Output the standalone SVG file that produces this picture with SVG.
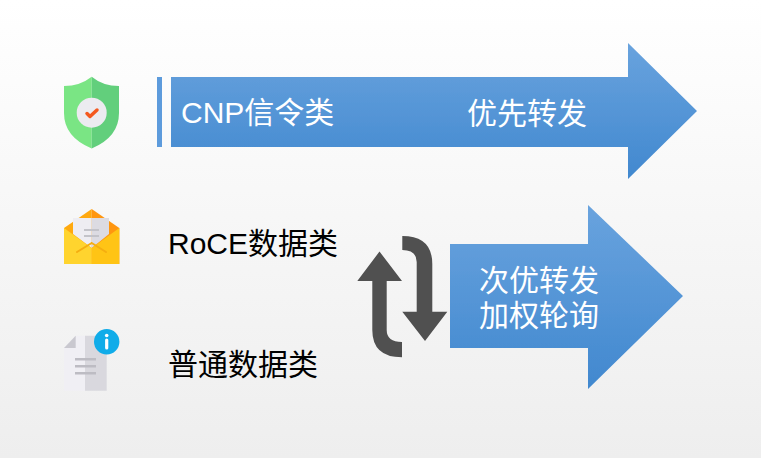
<svg xmlns="http://www.w3.org/2000/svg" width="761" height="458" viewBox="0 0 761 458">
<style>
text{font-family:"Liberation Sans","Noto Sans CJK SC",sans-serif;font-size:30px}
.w{fill:#fff}.k{fill:#000}
.arrow{fill:url(#blue);filter:url(#soft)}
.swap{fill:#505050}
</style>
<defs>
<linearGradient id="bg" x1="0" y1="0" x2="0" y2="1"><stop offset="0" stop-color="#fff"/><stop offset="1" stop-color="#eeeeee"/></linearGradient>
<linearGradient id="blue" x1="0" y1="0" x2="0" y2="1"><stop offset="0" stop-color="#69a3de"/><stop offset="1" stop-color="#4188cf"/></linearGradient>
<filter id="soft" x="-5%" y="-5%" width="110%" height="110%"><feGaussianBlur stdDeviation="0.6"/></filter>
</defs>
<rect width="761" height="458" fill="url(#bg)"/>
<g id="connectors">
<path id="arrow-priority" class="arrow" d="M171 77H628V43L697 111L628 179V147H171Z"/>
<path id="arrow-wrr" class="arrow" d="M450 244H588V205L683 296L588 389V348H450Z"/>
<path id="swap-up" class="swap" d="M379.500 251.500L402 281H386.700V330Q386.700 342 402 342V357.300Q372.300 357.300 372.300 330V281H357.300Z"/>
<path id="swap-down" class="swap" d="M402.300 236Q432.300 236 432.300 264V311.700H447.300L425 341L402.300 311.700H416.700V262Q416.700 250 402.300 250Z"/>
</g>
<g id="bar"><rect x="157" y="77" width="5" height="70" fill="#5d9bdc" filter="url(#soft)"/></g>
<g id="node-cnp">
<path d="M91.700 76.700Q80 86 64 86V113Q64 137 91.700 148.500Z" fill="#7ae584"/>
<path d="M91.700 76.700Q103 86 119 86V113Q119 137 91.700 148.500Z" fill="#62cf7c"/>
<circle cx="91.700" cy="112.700" r="15" fill="#ecebf0"/>
<path d="M87 113.500L90 116.500L97 110" fill="none" stroke="#f4581f" stroke-width="3.500" stroke-linecap="round" stroke-linejoin="round"/>
<text class="w" x="181" y="122.500">CNP信令类</text>
<text class="w" x="467" y="124">优先转发</text>
</g>
<g id="node-roce">
<path d="M64 228L91.700 209V264H64Z" fill="#ffa90f"/>
<path d="M119.300 228L91.700 209V264H119.300Z" fill="#ff9610"/>
<path d="M73 218H91.700V248L73 234Z" fill="#eeedf2"/>
<path d="M91.700 218H109V234L91.700 248Z" fill="#dcdbe2"/>
<path d="M84 230H99M84 236H99" stroke="#c3c3c9" stroke-width="2"/>
<path d="M64 228L91.700 248V264H64Z" fill="#ffd42e"/>
<path d="M119.300 228L91.700 248V264H119.300Z" fill="#ffc415"/>
<path d="M77 252L91.700 243M106 252L91.700 243" stroke="#f5ae10" stroke-width="2" stroke-linecap="round" fill="none"/>
<text class="k" x="168" y="253.500">RoCE数据类</text>
</g>
<g id="node-normal">
<path d="M75.700 335.700H85V390.700H64V348Z" fill="#f0eff4"/>
<path d="M85 335.700H106.700V390.700H85Z" fill="#d9d8de"/>
<path d="M75.700 335.700V348H64Z" fill="#c9c8cf"/>
<path d="M75 359.300H96M75 366.300H96M75 373.300H96" stroke="#bdbcc3" stroke-width="2.500"/>
<circle cx="106.700" cy="341.700" r="12.700" fill="#10ace9"/>
<path d="M106.700 340V348" stroke="#fff" stroke-width="3.200" stroke-linecap="round"/>
<circle cx="106.700" cy="335.500" r="1.800" fill="#fff"/>
<text class="k" x="168" y="375">普通数据类</text>
</g>
<g id="node-wrr">
<text class="w" x="479" y="291">次优转发</text>
<text class="w" x="479" y="326">加权轮询</text>
</g>
</svg>
